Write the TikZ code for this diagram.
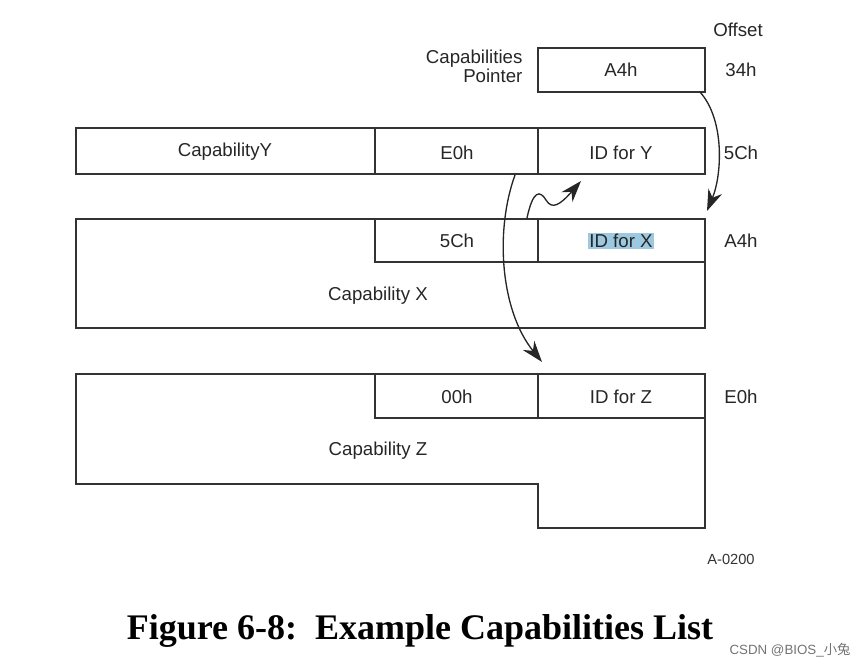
\documentclass[tikz,border=0pt]{standalone}
\usepackage{fontspec}
\setmainfont{Liberation Sans}
\newfontfamily\capfont{Liberation Serif}
\newfontfamily\cjk{Noto Sans CJK SC}
\usetikzlibrary{arrows.meta}
\definecolor{hl}{HTML}{9CC9E0}
\definecolor{ln}{HTML}{333333}
\begin{document}
\begin{tikzpicture}[x=0.75pt,y=-0.75pt,
  box/.style={draw=ln,line width=1.1pt},
  lbl/.style={font=\fontsize{14}{16}\selectfont,text=black!85,inner sep=1pt},
  arr/.style={line width=1pt,draw=black!85,-{Stealth[length=16pt,width=11pt]}}]
\useasboundingbox (0,0) rectangle (865,668);
% pointer
\draw[box] (538,48) rectangle (705,92);
\node[lbl,align=right,anchor=east] (cp) at (524,66) {Capabilities\\[-2pt]Pointer};
\node[lbl] (ptr) at (621,70) {A4h};
\node[lbl] (off) at (738,30) {Offset};
\node[lbl] (o1) at (741,70) {34h};
% Y
\draw[box] (76,128) rectangle (705,174);
\draw[box] (375,128) -- (375,174) (538,128) -- (538,174);
\node[lbl] (cy) at (225,152) {CapabilityY};
\node[lbl] (ye) at (457,153) {E0h};
\node[lbl] (yid) at (621,153) {ID for Y};
\node[lbl] (o2) at (741,153) {5Ch};
% X
\draw[box] (76,219) rectangle (705,328);
\draw[box] (375,219) -- (375,262) -- (705,262) (538,219) -- (538,262);
\node[lbl] (xn) at (457,241) {5Ch};
\node[lbl,fill=hl] (xid) at (621,241) {ID for X};
\node[lbl] (cx) at (378,296) {Capability X};
\node[lbl] (o3) at (741,241) {A4h};
% Z
\draw[box] (76,374) -- (705,374) -- (705,528) -- (538,528) -- (538,484) -- (76,484) -- cycle;
\draw[box] (375,374) -- (375,418) -- (705,418) (538,374) -- (538,418);
\node[lbl] (zn) at (457,397) {00h};
\node[lbl] (zid) at (621,397) {ID for Z};
\node[lbl] (cz) at (378,451) {Capability Z};
\node[lbl] (o4) at (741,397) {E0h};
\node[font=\fontsize{11}{13}\selectfont,text=black!80] (fig) at (731,559) {A-0200};
\node[font=\capfont\bfseries\fontsize{27}{30}\selectfont] (cap) at (420,631) {Figure 6-8:\ \ Example Capabilities List};
\node[font=\fontsize{10}{12}\selectfont,text=black!55] (wm) at (790,650) {CSDN @BIOS\_{\cjk 小兔}};
% arrows
\coordinate (a1) at (700,92);
\coordinate (a1e) at (707,211);
\draw[arr] (a1) .. controls (725,120) and (722,175) .. (a1e);
\coordinate (a2) at (515,175);
\coordinate (a2e) at (542,362);
\draw[arr] (a2) .. controls (495,230) and (500,310) .. (a2e);
\coordinate (a3) at (527,218);
\coordinate (a3e) at (581,181);
\draw[arr] (a3) .. controls (533,190) and (540,190) .. (546,200) .. controls (552,210) and (560,205) .. (a3e);
\end{tikzpicture}
\end{document}
